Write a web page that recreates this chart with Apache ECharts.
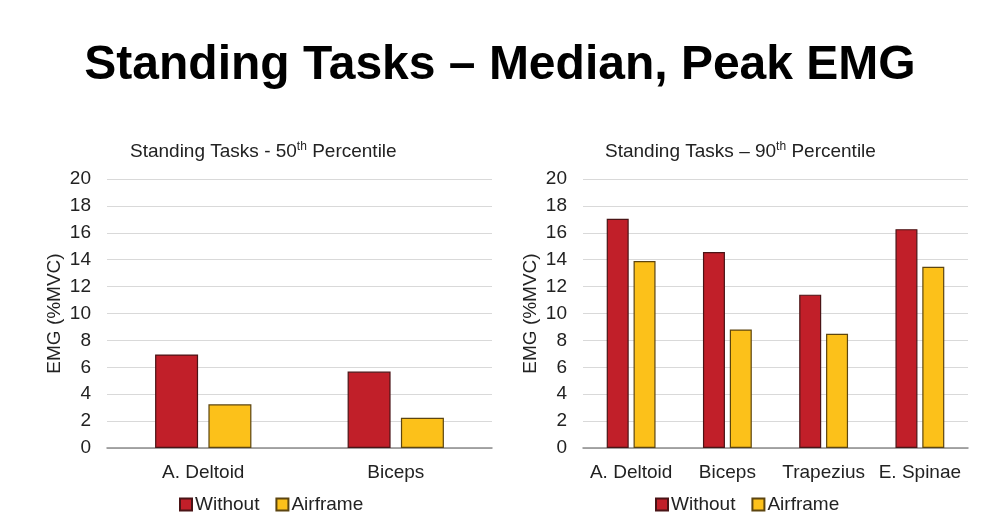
<!DOCTYPE html>
<html>
<head>
<meta charset="utf-8">
<script src="https://cdn.jsdelivr.net/npm/echarts@6/dist/echarts.min.js"></script>
<style>
  html, body { margin: 0; padding: 0; background: #fff; }
  #chart { width: 1000px; height: 522px; }
</style>
</head>
<body>
<div id="chart"></div>
<script>
// data
const seriesNames = ['Without', 'Airframe']
const medianMuscles = ['A. Deltoid', 'Biceps']
const medianWithout = [6.95, 5.68]
const medianAirframe = [3.25, 2.25]
const peakMuscles = ['A. Deltoid', 'Biceps', 'Trapezius', 'E. Spinae']
const peakWithout = [17.05, 14.57, 11.4, 16.27]
const peakAirframe = [13.9, 8.81, 8.5, 13.48]
const yTicks = [0, 20, 2] // min, max, interval

const FONT = 'Liberation Sans, Arial, sans-serif'
const RED = '#c11f29'
const YELLOW = '#fcc11a'
const chart = echarts.init(document.getElementById('chart'))

const subTitle = (left, text) => ({
  text: text,
  left: left,
  top: 136,
  textStyle: {
    fontFamily: FONT,
    fontSize: 19,
    fontWeight: 'normal',
    color: '#222',
    rich: {
      n: { fontFamily: FONT, fontSize: 19, color: '#222' },
      sup: { fontFamily: FONT, fontSize: 12, color: '#222', padding: [0, 0, 10, 0] },
    },
  },
})

const catAxis = (grid, data) => ({
  type: 'category',
  gridIndex: grid,
  data: data,
  axisTick: { show: false },
  axisLine: { lineStyle: { color: '#8c8c8c', width: 1.5 } },
  axisLabel: { fontFamily: FONT, fontSize: 19, color: '#222', margin: 15, interval: 0 },
})

const valAxis = (grid) => ({
  type: 'value',
  gridIndex: grid,
  min: yTicks[0],
  max: yTicks[1],
  interval: yTicks[2],
  name: 'EMG (%MVC)',
  nameLocation: 'middle',
  nameGap: 43,
  nameTextStyle: { fontFamily: FONT, fontSize: 19, color: '#222' },
  axisLabel: { fontFamily: FONT, fontSize: 19, color: '#222', margin: 16 },
  splitLine: { lineStyle: { color: '#d9d9d9', width: 1 } },
})

const bar = (name, grid, data, color, border, width, gap) => ({
  name: name,
  type: 'bar',
  xAxisIndex: grid,
  yAxisIndex: grid,
  data: data,
  barWidth: width,
  barGap: gap,
  itemStyle: { color: color, borderColor: border, borderWidth: 1.2 },
})

const legendStyle = (left) => ({
  data: seriesNames,
  left: left,
  top: 490,
  itemWidth: 12,
  itemHeight: 12,
  itemGap: 16,
  icon: 'rect',
  textStyle: { fontFamily: FONT, fontSize: 19, color: '#222', padding: [0, 0, 0, -2] },
})

chart.setOption({
  animation: false,
  backgroundColor: '#fff',
  title: [
    {
      text: 'Standing Tasks – Median, Peak EMG',
      left: 'center',
      top: 37,
      textStyle: { fontFamily: FONT, fontSize: 48, fontWeight: 'bold', color: '#000' },
    },
    subTitle(125, '{n|Standing Tasks - 50}{sup|th}{n| Percentile}'),
    subTitle(600, '{n|Standing Tasks – 90}{sup|th}{n| Percentile}'),
  ],
  legend: [legendStyle(174), legendStyle(650)],
  grid: [
    { left: 107, right: 508, top: 179, bottom: 74 },
    { left: 583, right: 32, top: 179, bottom: 74 },
  ],
  xAxis: [catAxis(0, medianMuscles), catAxis(1, peakMuscles)],
  yAxis: [valAxis(0), valAxis(1)],
  series: [
    bar(seriesNames[0], 0, medianWithout, RED, '#4a1416', 43, '24%'),
    bar(seriesNames[1], 0, medianAirframe, YELLOW, '#5c4510', 43, '24%'),
    bar(seriesNames[0], 1, peakWithout, RED, '#4a1416', 22, '22%'),
    bar(seriesNames[1], 1, peakAirframe, YELLOW, '#5c4510', 22, '22%'),
  ],
})
</script>
</body>
</html>
